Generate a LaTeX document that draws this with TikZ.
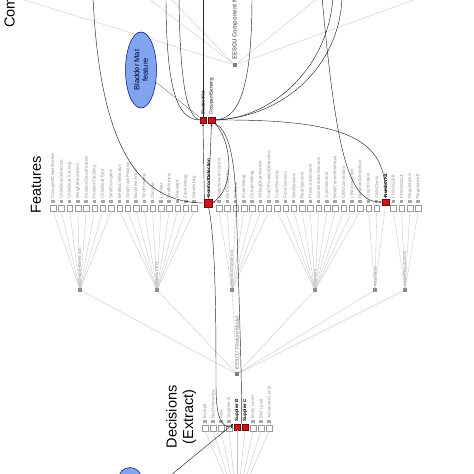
\documentclass[tikz,border=0pt]{standalone}
\usepackage{fontspec}
\setmainfont{Liberation Sans}
\usetikzlibrary{arrows.meta,shapes.geometric}
\definecolor{blobblue}{RGB}{128,164,238}
\definecolor{mred}{RGB}{200,22,28}
\begin{document}
\begin{tikzpicture}[x=1pt,y=-1pt,
 fan/.style={draw=black!25,line width=0.3pt},
 dk/.style={draw=black!85,line width=0.45pt},
 arr/.style={-{Latex[length=2.6pt,width=2pt]}},
 fbox/.style={draw=black!40,fill=white,line width=0.3pt,minimum width=5.5pt,minimum height=6pt,inner sep=0pt},
 ficon/.style={fill=black!35,minimum size=3.5pt,inner sep=0pt},
 rbox/.style={fill=mred,draw=red!45!black,line width=0.3pt,minimum size=6.5pt,inner sep=0pt},
 flab/.style={rotate=90,anchor=west,inner sep=0pt,text=black!42,font=\fontsize{4.5}{5}\selectfont},
 dlab/.style={flab,text=black,font=\fontsize{4.5}{5}\selectfont\bfseries},
 titletext/.style={rotate=90,inner sep=0pt,font=\fontsize{14.5}{16.5}\selectfont,align=center},
 blob/.style={fill=blobblue,draw=black!55!blue,line width=0.5pt}
]
\useasboundingbox (0,0) rectangle (474,474);

% titles
\node[titletext,anchor=west] (tcomp) at (11,28) {Components};
\node[titletext] (tfeat) at (36,185) {Features};
\node[titletext] (tdec) at (181,417) {Decisions\\(Extract)};

% component model
\node[ficon,fill=black!50] (cm) at (235,65) {};
\node[flab,text=black!55,font=\fontsize{6}{7}\selectfont\bfseries] (cml) at (235,60) {EESCU Component Model};
\coordinate (t1) at (5,-6);
\coordinate (t2) at (168,-4);
\coordinate (t3) at (140,-8);
\coordinate (t4) at (318,-2);
\coordinate (t5) at (430,-6);
\foreach \t in {t1,t2,t3,t4,t5} \draw[fan] (\t) -- (cm);

% blob nodes
\node[blob,ellipse,rotate=90,minimum width=76pt,minimum height=31pt,inner sep=0pt,align=center,
      font=\fontsize{7.5}{8.5}\selectfont,text=black!80!blue] (bme) at (141,70) {Bladder Mat\\feature};
\node[blob,circle,minimum size=23pt,inner sep=0pt] (bot) at (130,479) {};

% top red boxes
\node[rbox] (bm) at (203,120) {};
\node[rbox] (os) at (211.5,120) {};
\node[dlab,font=\fontsize{4.6}{5}\selectfont] (bml) at (203,114.5) {BladderMat};
\node[dlab,font=\fontsize{4.6}{5}\selectfont] (osl) at (211.5,114.5) {OccupantSensing};
\draw[draw=black!55,line width=0.4pt] (bme) -- (bm);

% features
\foreach \i/\n in {0/OccupantClassification,1/ChildSeatDetection,2/ChildSeatTracking,3/WeightEstimation,
  4/PositionClassification,5/PositionTracking,6/ChildSeatType,7/SeatOccupied,8/BeltBuckleStatus,
  9/SeatTrackPosition,10/BackrestAngle,11/SeatHeating,12/Climate,13/Lumbar,14/SeatMemory,15/Massage,
  16/FrontAirbag,17/SideAirbag,20/PretensionerControl,21/BeltTensioner,22/Rollover,23/KneeAirbag,
  24/CurtainAirbag,25/AirbagDeactivation,26/OutOfPositionDetection,27/CrashSeverity,28/FrontSensors,
  29/SideSensors,30/RearSensors,31/PressureSensors,32/AccelerationSensors,33/GyroSensors,
  34/BodyControlInterface,35/CANConnection,36/LINConnection,37/DiagnosticInterface,38/CrashOutput,
  39/CANCheck,41/FMVSS208,42/FMVSS214,43/RegulationA,44/RegulationE}{
  \pgfmathsetmacro\xx{53+8.3*\i}
  \node[fbox] (f\i) at (\xx,208) {};
  \node[ficon] (fi\i) at (\xx,201.5) {};
  \node[flab] (fl\i) at (\xx,198.5) {\n};
}
\node[rbox,minimum size=8pt] (cd) at (208.5,203) {};
\node[dlab,font=\fontsize{4.6}{5}\selectfont\bfseries] (cdl) at (208.5,197.5) {ComfortDetection};
\node[rbox] (nk) at (385.5,202) {};
\node[dlab,font=\fontsize{4.6}{5}\selectfont\bfseries] (nkl) at (385.5,197.5) {NumberKit};

% groups
\foreach \g/\gx/\gn in {1/80/OccupantDetection,2/157/Deployment,3/232/RestraintSystems,
  4/315/Sensors,5/375/Interfaces,6/405/LegalRegulations}{
  \node[ficon,fill=black!45] (g\g) at (\gx,290) {};
  \node[flab] (gl\g) at (\gx,286) {\gn};
}
\foreach \i in {0,...,7} \draw[fan] (f\i.south) -- (g1);
\foreach \i in {8,...,17} \draw[fan] (f\i.south) -- (g2);
\foreach \i in {20,...,26} \draw[fan] (f\i.south) -- (g3);
\foreach \i in {27,...,37} \draw[fan] (f\i.south) -- (g4);
\foreach \i in {38,39} \draw[fan] (f\i.south) -- (g5);
\draw[fan] (nk.south) -- (g5);
\foreach \i in {41,...,44} \draw[fan] (f\i.south) -- (g6);

% feature model
\node[ficon,fill=black!50] (fm) at (237,374) {};
\node[flab,text=black!50,font=\fontsize{5.2}{6}\selectfont] (fml) at (237,369.5) {EESCU Feature Model};
\foreach \g in {1,...,6} \draw[fan] (g\g) -- (fm);

% decisions
\coordinate (dbase) at (237,505);
\foreach \k/\n in {0/Europe,1/North America,2/Asia,3/Supplier A,6/Entry Level,7/Mid Level,8/Advanced Level}{
  \pgfmathsetmacro\xx{205+8*\k}
  \node[fbox] (d\k) at (\xx,428) {};
  \node[ficon] (di\k) at (\xx,421.5) {};
  \node[flab] (dl\k) at (\xx,418.5) {\n};
}
\node[rbox] (d4) at (237,427) {};
\node[rbox] (d5) at (245,427) {};
\node[dlab] (dl4) at (237,421.5) {Supplier B};
\node[dlab] (dl5) at (245,421.5) {Supplier C};
\foreach \k in {0,...,8} \draw[fan] (d\k.south) -- (dbase);

% dark connectors
\coordinate (c1) at (93,-3);
\coordinate (c2) at (166,-3);
\coordinate (c3) at (179,-3);
\coordinate (c4) at (203,-3);
\coordinate (c5) at (252,-3);
\coordinate (c6) at (333,-3);
\coordinate (c7) at (342,-3);
\coordinate (c8) at (322,-3);
\coordinate (c9) at (148,494);
\draw[dk] (c1) .. controls (100,150) and (140,203) .. (cd.west);
\draw[dk] (c2) .. controls (166,105) and (182,119) .. (bm.west);
\draw[dk] (c3) .. controls (180,100) and (190,117) .. (bm.west);
\draw[dk] (c4) -- (bm.north);
\draw[dk] (c5) .. controls (252,100) and (235,119) .. (os.east);
\draw[dk] (c6) .. controls (328,70) and (270,119) .. (os.east);
\draw[dk] (c7) .. controls (340,65) and (285,117) .. (os.east);
\draw[dk,arr] (os.east) .. controls (350,119) and (386,140) .. (nk.north);
\draw[dk,arr] (c8) .. controls (336,150) and (348,202) .. (nk.west);
\draw[dk,arr] (cd.north west) -- (bm.south);
\draw[dk,arr] (cd.north) -- (os.south);
\draw[dk,arr] (os.south east) .. controls (231,140) and (236,185) .. (cd.east);
\draw[dk,arr] (cd.south) .. controls (216,240) and (216,330) .. (216,385) .. controls (216,420) and (222,427) .. (d4.west);
\draw[dk] (os.south east) .. controls (232,132) and (236,170) .. (237,230) .. controls (239,300) and (242,380) .. (d5.north west);
\draw[dk,arr] (c9) -- (d4.north west);
\end{tikzpicture}
\end{document}
